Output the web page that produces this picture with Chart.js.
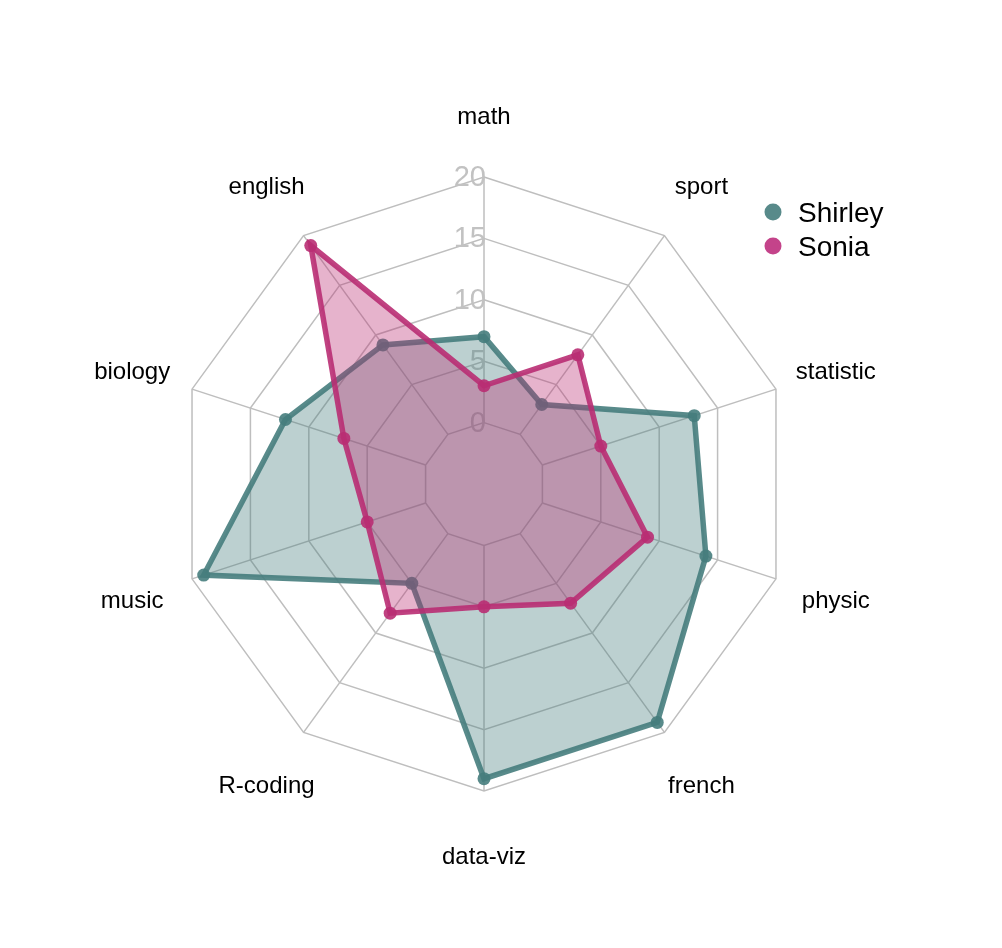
<!DOCTYPE html>
<html>
<head>
<meta charset="utf-8">
<script src="https://cdn.jsdelivr.net/npm/chart.js@4.4.1/dist/chart.umd.min.js"></script>
<style>
  html, body { margin: 0; padding: 0; background: #fff; }
  #wrap { width: 1002px; height: 948px; position: relative; }
</style>
</head>
<body>
<div id="wrap"><canvas id="radar"></canvas></div>
<script>
const subjects = ['math', 'sport', 'statistic', 'physic', 'french', 'data-viz', 'R-coding', 'music', 'biology', 'english'];
const shirleyScores = [7, 3, 13, 14, 19, 19, 5, 19, 12, 9];
const soniaScores = [3, 8, 5, 9, 7, 5, 8, 5, 7, 19];
const seriesNames = ['Shirley', 'Sonia'];
const tickValues = [0, 5, 10, 15, 20];

const FONT = '"Liberation Sans", Arial, Helvetica, sans-serif';
const GRID_COLOR = '#BEBEBE';
const TICK_COLOR = '#C2C2C2';

const lineColors = ['rgba(70,125,125,0.9)', 'rgba(185,45,115,0.9)'];
const fillColors = ['rgba(70,125,125,0.36)', 'rgba(185,45,115,0.36)'];
const legendColors = ['#588A8A', '#C4438A'];

Chart.defaults.font.family = FONT;

// axis spokes, tick numbers and subject names, drawn off the radial scale
const radarFrame = {
    id: 'radarFrame',
    beforeDatasetsDraw(chart) {
        const { ctx } = chart;
        const scale = chart.scales.r;
        const top = tickValues[tickValues.length - 1];

        ctx.save();
        ctx.strokeStyle = GRID_COLOR;
        ctx.lineWidth = 1.5;
        subjects.forEach((_, i) => {
            const a = scale.getPointPositionForValue(i, tickValues[0]);
            const b = scale.getPointPositionForValue(i, top);
            ctx.beginPath();
            ctx.moveTo(a.x, a.y);
            ctx.lineTo(b.x, b.y);
            ctx.stroke();
        });

        ctx.font = `29px ${FONT}`;
        ctx.fillStyle = TICK_COLOR;
        ctx.textAlign = 'right';
        ctx.textBaseline = 'middle';
        tickValues.forEach((v) => {
            const y = scale.yCenter - scale.getDistanceFromCenterForValue(v);
            ctx.fillText(String(v), scale.xCenter + 2, y + 1);
        });

        ctx.font = `24px ${FONT}`;
        ctx.fillStyle = '#000';
        ctx.textAlign = 'center';
        subjects.forEach((name, i) => {
            const p = scale.getPointPosition(i, scale.drawingArea * 1.205);
            ctx.fillText(name, p.x, p.y + 3);
        });
        ctx.restore();
    },
    afterDraw(chart) {
        const { ctx } = chart;
        ctx.save();
        ctx.font = `28px ${FONT}`;
        ctx.textAlign = 'left';
        ctx.textBaseline = 'middle';
        chart.data.datasets.forEach((ds, i) => {
            const y = 212 + i * 34;
            ctx.beginPath();
            ctx.arc(773, y, 8.5, 0, Math.PI * 2);
            ctx.fillStyle = legendColors[i];
            ctx.fill();
            ctx.fillStyle = '#000';
            ctx.fillText(ds.label, 798, y + 2);
        });
        ctx.restore();
    }
};

function makeDataset(idx, values) {
    return {
        label: seriesNames[idx],
        data: values,
        order: idx === 0 ? 1 : 0,
        fill: 'start',
        backgroundColor: fillColors[idx],
        borderColor: lineColors[idx],
        borderWidth: 5.5,
        pointRadius: 6.5,
        pointBorderWidth: 0,
        pointBackgroundColor: lineColors[idx],
        tension: 0,
    };
}

new Chart(document.getElementById('radar'), {
    type: 'radar',
    data: {
        labels: subjects,
        datasets: [makeDataset(0, shirleyScores), makeDataset(1, soniaScores)],
    },
    options: {
        responsive: true,
        maintainAspectRatio: false,
        animation: false,
        events: [],
        layout: { padding: { left: 177, right: 211, top: 177, bottom: 157 } },
        plugins: {
            legend: { display: false },
            tooltip: { enabled: false },
        },
        scales: {
            r: {
                min: -5,
                max: 20,
                ticks: { stepSize: 5, display: false },
                grid: { color: GRID_COLOR, lineWidth: 1.5 },
                angleLines: { display: false },
                pointLabels: { display: false },
            },
        },
    },
    plugins: [radarFrame],
});
</script>
</body>
</html>
